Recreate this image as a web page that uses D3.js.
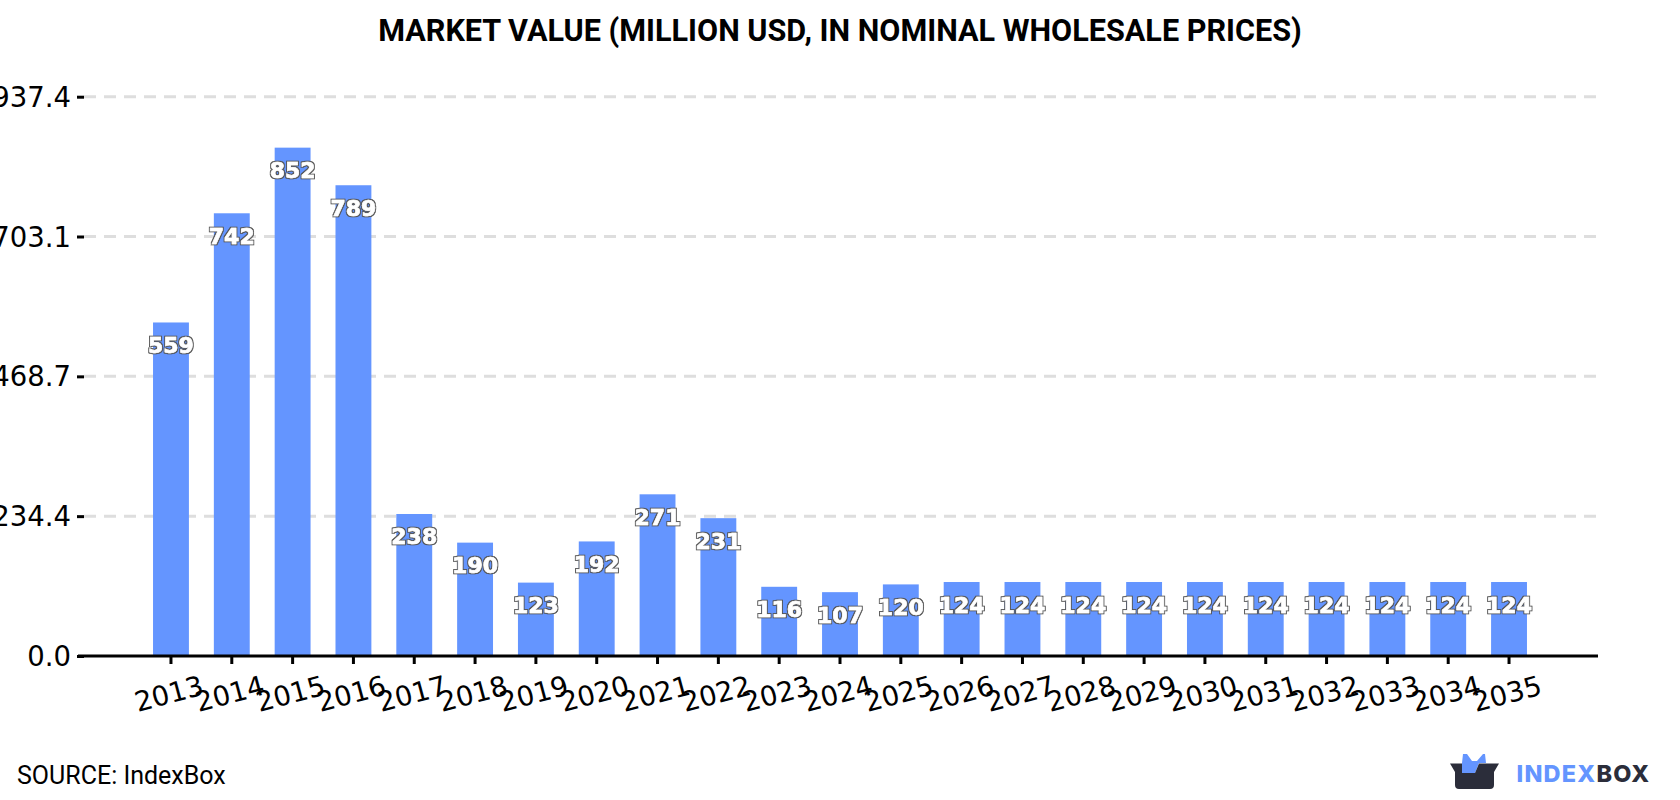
<!DOCTYPE html>
<html>
<head>
<meta charset="utf-8">
<style>
html,body{margin:0;padding:0;background:#fff;}
svg{display:block;}
</style>
<script src="https://cdn.jsdelivr.net/npm/d3@7/dist/d3.min.js"></script>
</head>
<body>
<svg id="chart" width="1680" height="800"></svg>
<script>
// Yearly market value series
const years = [2013,2014,2015,2016,2017,2018,2019,2020,2021,2022,2023,2024,2025,2026,2027,2028,2029,2030,2031,2032,2033,2034,2035];
const marketValues = [559,742,852,789,238,190,123,192,271,231,116,107,120,124,124,124,124,124,124,124,124,124,124];
const yTickValues = [0,234.4,468.7,703.1,937.4];
const titleText = "MARKET VALUE (MILLION USD, IN NOMINAL WHOLESALE PRICES)";
const sourceText = "SOURCE: IndexBox";

const svg = d3.select("#chart");
const plot = {left:84, right:1596, top:96.7, bottom:656};

const x = d3.scaleBand().domain(years).range([plot.left, plot.right]).paddingInner(0.41).paddingOuter(1.135);
const y = d3.scaleLinear().domain([0,937.4]).range([plot.bottom, plot.top]);

// Thin grey halo drawn around the white value labels
const halo = svg.append("defs").append("filter").attr("id","labelHalo")
  .attr("x","-10%").attr("y","-20%").attr("width","120%").attr("height","140%");
halo.append("feMorphology").attr("in","SourceAlpha").attr("operator","dilate").attr("radius",0.9).attr("result","grown");
halo.append("feFlood").attr("flood-color","#555").attr("result","tint");
halo.append("feComposite").attr("in","tint").attr("in2","grown").attr("operator","in").attr("result","outline");
const haloMerge = halo.append("feMerge");
haloMerge.append("feMergeNode").attr("in","outline");
haloMerge.append("feMergeNode").attr("in","SourceGraphic");

svg.append("text")
  .attr("x",840).attr("y",41).attr("text-anchor","middle")
  .style("font","700 30.6px Roboto").style("fill","#000")
  .text(titleText);

// Dashed horizontal grid
svg.append("g").selectAll("line").data(yTickValues.filter(d=>d>0)).join("line")
  .attr("x1",plot.left).attr("x2",plot.right)
  .attr("y1",d=>y(d)).attr("y2",d=>y(d))
  .attr("stroke","#dedede").attr("stroke-width",3).attr("stroke-dasharray","12 8");

// Bars
svg.append("g").selectAll("rect").data(years).join("rect")
  .attr("x",d=>x(d)).attr("width",x.bandwidth())
  .attr("y",(d,i)=>y(marketValues[i]))
  .attr("height",(d,i)=>y(0)-y(marketValues[i]))
  .attr("fill","#6495ff");

// Left axis
const yAxis = d3.axisLeft(y).tickValues(yTickValues).tickFormat(d3.format(".1f")).tickSize(7).tickPadding(6);
const gy = svg.append("g").attr("transform",`translate(${plot.left},0)`).call(yAxis);
gy.select(".domain").remove();
gy.selectAll("line").attr("stroke","#000").attr("stroke-width",3);
gy.selectAll("text").style("font","27.5px 'DejaVu Sans'").attr("fill","#000").attr("dy","0.35em");

// Bottom axis with slanted year labels
const xAxis = d3.axisBottom(x).tickSize(8).tickPadding(0);
const gx = svg.append("g").attr("transform",`translate(0,${plot.bottom})`).call(xAxis);
gx.select(".domain").attr("stroke","#000").attr("stroke-width",3).attr("d",`M${plot.left-6},0H${plot.right+2}`);
gx.selectAll("line").attr("stroke","#000").attr("stroke-width",3);
gx.selectAll("text")
  .style("font","27.5px 'DejaVu Sans'").attr("fill","#000")
  .attr("text-anchor","middle").attr("dy",0).attr("y",0)
  .attr("transform","translate(0.5,47) rotate(-15)");

// Value labels inside the bars
svg.append("g").attr("filter","url(#labelHalo)").selectAll("text").data(years).join("text")
  .attr("x",d=>x(d)+x.bandwidth()/2)
  .attr("y",(d,i)=>y(marketValues[i])+30.5)
  .attr("text-anchor","middle")
  .style("font","700 22px 'DejaVu Sans'")
  .style("fill","#fff").style("stroke","#fff").style("stroke-width","0.6px")
  .text((d,i)=>marketValues[i]);

svg.append("text").attr("x",17).attr("y",784)
  .style("font","25px Roboto").style("fill","#000").text(sourceText);

// Brand mark: open box with a blue crown rising out of it
const logo = svg.append("g");
logo.append("path")
  .attr("d","M1462,773L1462,763L1463,754L1467,754L1472,761L1477,761L1483,754L1485,754L1486,763L1479,763L1475,773Z")
  .attr("fill","#6495ff");
logo.append("path")
  .attr("d","M1450,763.5L1462,763.5L1462,773L1475,773L1479,763.5L1499,763.5L1494,772L1494,785Q1494,789 1490,789L1459,789Q1455,789 1455,785L1455,772Z")
  .attr("fill","#2b2d3a");
const logoText = svg.append("text").attr("x",1516.5).attr("y",782)
  .style("font","800 23.5px Inter").style("letter-spacing","1.2px");
logoText.append("tspan").attr("fill","#6495ff").text("INDEX");
logoText.append("tspan").attr("fill","#2b2d3a").text("BOX");
</script>
</body>
</html>
